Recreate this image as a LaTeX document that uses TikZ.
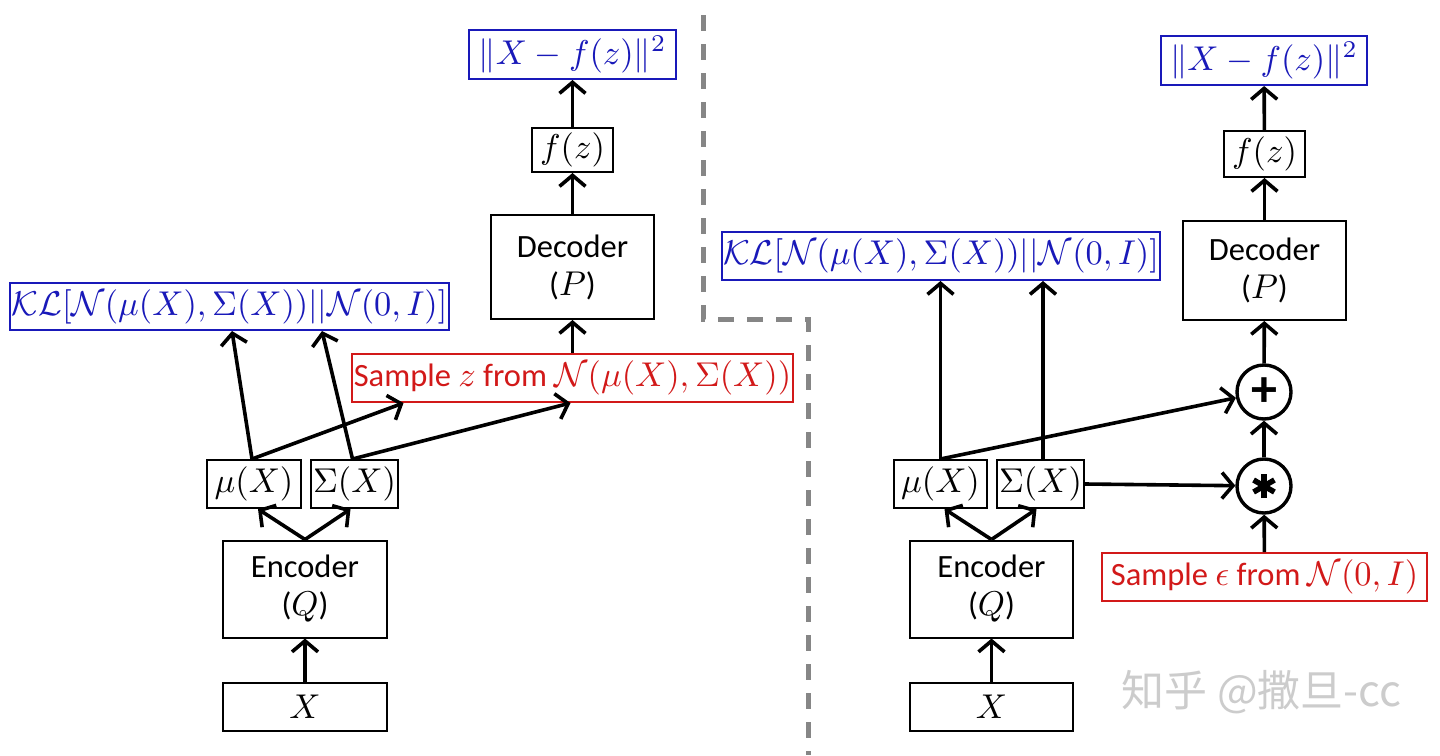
\documentclass[tikz,border=0pt]{standalone}
\usepackage{graphicx}
\usepackage[no-math]{fontspec}
\setmainfont{Carlito}
\newfontfamily\cjkwm{Noto Sans CJK SC}
\usetikzlibrary{arrows.meta,calc}
\newcommand{\mth}[1]{\scalebox{3.44}{\fontsize{10}{12}\selectfont$#1$}}
\definecolor{kblue}{RGB}{25,25,185}
\definecolor{kred}{RGB}{210,25,25}
\tikzset{
  bx/.style={draw, line width=2pt, inner sep=0pt, align=center, font=\fontsize{32.5}{38}\selectfont},
  bluebx/.style={bx, draw=kblue, text=kblue},
  redbx/.style={bx, draw=kred, text=kred},
  arr/.style={line width=3.6pt, -{Straight Barb[length=11pt,width=26pt]}},
  opc/.style={draw, circle, line width=3.4pt, minimum size=54pt, inner sep=0pt},
  asteriskarm/.style={line width=5.5pt},
  divider/.style={draw=gray!95, line width=5pt, dash pattern=on 16pt off 13pt}
}
\begin{document}
\begin{tikzpicture}[x=1pt,y=-1pt]
\useasboundingbox (0,0) rectangle (1440,755);
\fill[white] (0,0) rectangle (1440,755);

% divider
\draw[divider] (703,15) -- (703,319) -- (808,319) -- (808,755);

% ---------- left ----------
\node[bx, minimum width=164pt, minimum height=48pt] (xL) at (305,707) {\mth{X}};
\node[bx, minimum width=164pt, minimum height=97pt] (encL) at (305,589) {Encoder\\(\mth{Q})};
\node[bx, minimum width=94pt, minimum height=48pt] (muL) at (254,484) {\mth{\mu(X)}};
\node[bx, minimum width=87pt, minimum height=48pt] (sigL) at (354.5,484) {\mth{\Sigma(X)}};
\node[bluebx, minimum width=439pt, minimum height=47pt] (klL) at (229.5,306.5) {\mth{\mathcal{KL}[\mathcal{N}(\mu(X),\Sigma(X))||\mathcal{N}(0,I)]}};
\node[redbx, minimum width=441pt, minimum height=48pt] (sampL) at (572.5,378) {Sample \mth{z} from \mth{\mathcal{N}(\mu(X),\Sigma(X))}};
\node[bx, minimum width=163pt, minimum height=104pt] (decL) at (572.5,267) {Decoder\\(\mth{P})};
\node[bx, minimum width=81pt, minimum height=44pt] (fzL) at (572.5,150) {\mth{f(z)}};
\node[bluebx, minimum width=207pt, minimum height=49pt] (lossL) at (572.5,54.5) {\mth{\|X-f(z)\|^2}};

\draw[arr] (xL) -- (encL);
\draw[arr] (encL.north) -- ([xshift=4pt]muL.south);
\draw[arr] (encL.north) -- ([xshift=-4pt]sigL.south);
\draw[arr] ([xshift=-2pt]muL.north) -- ([xshift=2.5pt]klL.south);
\draw[arr] ([xshift=-2pt]muL.north) -- ([xshift=-169pt]sampL.south);
\draw[arr] ([xshift=-2pt]sigL.north) -- ([xshift=92.5pt]klL.south);
\draw[arr] ([xshift=-2pt]sigL.north) -- ([xshift=-2pt]sampL.south);
\draw[arr] (sampL) -- (decL);
\draw[arr] (decL) -- (fzL);
\draw[arr] (fzL) -- (lossL);

% ---------- right ----------
\node[bx, minimum width=163pt, minimum height=48pt] (xR) at (991.5,707) {\mth{X}};
\node[bx, minimum width=163pt, minimum height=97pt] (encR) at (991.5,589) {Encoder\\(\mth{Q})};
\node[bx, minimum width=93pt, minimum height=48pt] (muR) at (940.5,484) {\mth{\mu(X)}};
\node[bx, minimum width=87pt, minimum height=48pt] (sigR) at (1040.5,484) {\mth{\Sigma(X)}};
\node[bluebx, minimum width=438pt, minimum height=48pt] (klR) at (941,256) {\mth{\mathcal{KL}[\mathcal{N}(\mu(X),\Sigma(X))||\mathcal{N}(0,I)]}};
\node[bx, minimum width=163pt, minimum height=99pt] (decR) at (1264.5,270.5) {Decoder\\(\mth{P})};
\node[bx, minimum width=81pt, minimum height=46pt] (fzR) at (1264.5,154) {\mth{f(z)}};
\node[bluebx, minimum width=206pt, minimum height=49pt] (lossR) at (1264,60.5) {\mth{\|X-f(z)\|^2}};
\node[opc] (plus) at (1264,392) {\fontsize{52}{52}\selectfont\bfseries +};
\node[opc] (star) at (1264,486) {};
\foreach \a in {90,30,150}
  \draw[asteriskarm] ($(star.center)+(\a:12)$) -- ($(star.center)+(\a+180:12)$);
\node[redbx, minimum width=325pt, minimum height=48pt] (sampR) at (1264.5,577) {Sample \mth{\epsilon} from \mth{\mathcal{N}(0,I)}};

\draw[arr] (xR) -- (encR);
\draw[arr] (encR.north) -- ([xshift=4pt]muR.south);
\draw[arr] (encR.north) -- ([xshift=-4pt]sigR.south);
\draw[arr] (muR.north) -- (muR.north |- klR.south);
\draw[arr] ([xshift=2.5pt]sigR.north) -- ([xshift=2.5pt]sigR.north |- klR.south);
\draw[arr] (muR.north) -- (plus);
\draw[arr] (sigR.east) -- (star);
\draw[arr] (sampR) -- (star);
\draw[arr] (star) -- (plus);
\draw[arr] (plus) -- (decR);
\draw[arr] (decR) -- (fzR);
\draw[arr] (fzR) -- (lossR);

% watermark
\node[text=gray!40, font=\cjkwm\fontsize{43}{46}\selectfont, anchor=west] (wm) at (1118,692) {知乎 @撒旦-cc};
\end{tikzpicture}
\end{document}
